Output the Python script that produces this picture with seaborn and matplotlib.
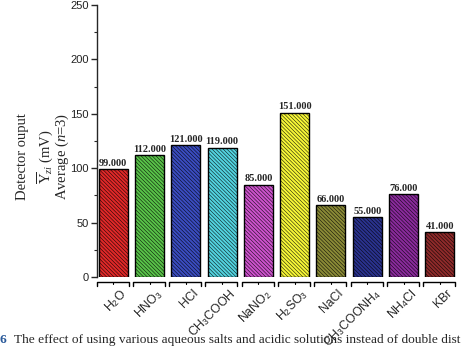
import matplotlib
matplotlib.use("Agg")
import matplotlib.pyplot as plt
import matplotlib.transforms as mtransforms
import seaborn as sns
import pandas as pd

categories = [r"H$_\mathsf{2}$O", r"HNO$_\mathsf{3}$", "HCl", r"CH$_\mathsf{3}$COOH",
              r"NaNO$_\mathsf{2}$", r"H$_\mathsf{2}$SO$_\mathsf{3}$", "NaCl",
              r"CH$_\mathsf{3}$COONH$_\mathsf{4}$", r"NH$_\mathsf{4}$Cl", "KBr"]
values = [99, 112, 121, 119, 85, 151, 66, 55, 76, 41]
colors = ["#e02828", "#58c248", "#3a4cc0", "#52d2de", "#cc52cc", "#f6f636",
          "#8a8a36", "#2a328e", "#8a2a9c", "#8e2a2a"]
yticks = [0, 50, 100, 150, 200, 250]

sns.set_theme(style="ticks")
plt.rcParams["mathtext.fontset"] = "custom"
plt.rcParams["mathtext.rm"] = "Liberation Serif"
plt.rcParams["mathtext.it"] = "Liberation Serif:italic"
plt.rcParams["mathtext.sf"] = "Liberation Sans"
plt.rcParams["hatch.linewidth"] = 0.35
plt.rcParams["hatch.color"] = "#111111"

df = pd.DataFrame({"cat": categories, "val": values})

fig = plt.figure(figsize=(4.74, 3.47), dpi=100)
ax = fig.add_axes([0.2046, 0.2017, 0.7654, 0.7839])

sns.barplot(data=df, x="cat", y="val", hue="cat", palette=colors, legend=False,
            width=0.8, edgecolor="black", linewidth=1.0, ax=ax, saturation=1)
for p in ax.patches:
    p.set_hatch("\\" * 9)

for i, v in enumerate(values):
    ax.text(i, v + 1.5, f"{v:.3f}", ha="center", va="bottom", fontsize=7.5,
            fontweight="bold", family="Liberation Serif")

ax.set_xlim(-0.45, 9.55)
ax.set_ylim(0, 250)
ax.set_yticks(yticks)
ax.set_yticks(range(0, 251, 25), minor=True)
ax.tick_params(axis="y", which="major", direction="out", length=4, width=1,
               labelsize=8, pad=2)
ax.tick_params(axis="y", which="minor", direction="out", length=2, width=0.8)
for lab in ax.get_yticklabels():
    lab.set_family("Liberation Sans")
    lab.set_color("#222222")
ax.spines["top"].set_visible(False)
ax.spines["right"].set_visible(False)
ax.spines["bottom"].set_visible(False)
ax.spines["left"].set_linewidth(1.0)

ax.set_xlabel("")
ax.set_ylabel("")
ax.set_xticks(range(len(categories)))
ax.set_xticklabels(categories, rotation=45, ha="right", rotation_mode="anchor",
                   fontsize=8.8, family="Liberation Sans")
ax.tick_params(axis="x", length=0, pad=7)
offset = mtransforms.ScaledTranslation(6 / 100, 0, fig.dpi_scale_trans)
for lab in ax.get_xticklabels():
    lab.set_transform(lab.get_transform() + offset)

# bracket-style category markers below axis
trans = mtransforms.blended_transform_factory(ax.transData, ax.transAxes)
y0, y1, y2 = -0.018, -0.033, -0.026
for i in range(len(categories)):
    l, r = i - 0.46, i + 0.42
    ax.plot([l, l, r, r], [y1, y0, y0, y1], color="black", lw=1.0,
            transform=trans, clip_on=False)
    ax.plot([i, i], [y0, y2], color="black", lw=0.8, transform=trans, clip_on=False)

fig.text(0.048, 0.548, "Detector ouput", rotation=90, ha="center", va="center",
         fontsize=10.5, family="Liberation Serif")
fig.text(0.094, 0.548, r"$\overline{\mathrm{Y}}_{zi}$ (mV)", rotation=90, ha="center",
         va="center", fontsize=10.5, family="Liberation Serif")
fig.text(0.131, 0.548, r"Average ($n$=3)", rotation=90, ha="center",
         va="center", fontsize=10.5, family="Liberation Serif")

fig.text(-0.002, 0.003, "6", ha="left", va="bottom", fontsize=9.6,
         family="Liberation Serif", fontweight="bold", color="#2a5a9a")
fig.text(0.030, 0.003,
         "The effect of using various aqueous salts and acidic solutions instead of double dist",
         ha="left", va="bottom", fontsize=9.6, family="Liberation Serif")

fig.savefig("out.png", dpi=100)
